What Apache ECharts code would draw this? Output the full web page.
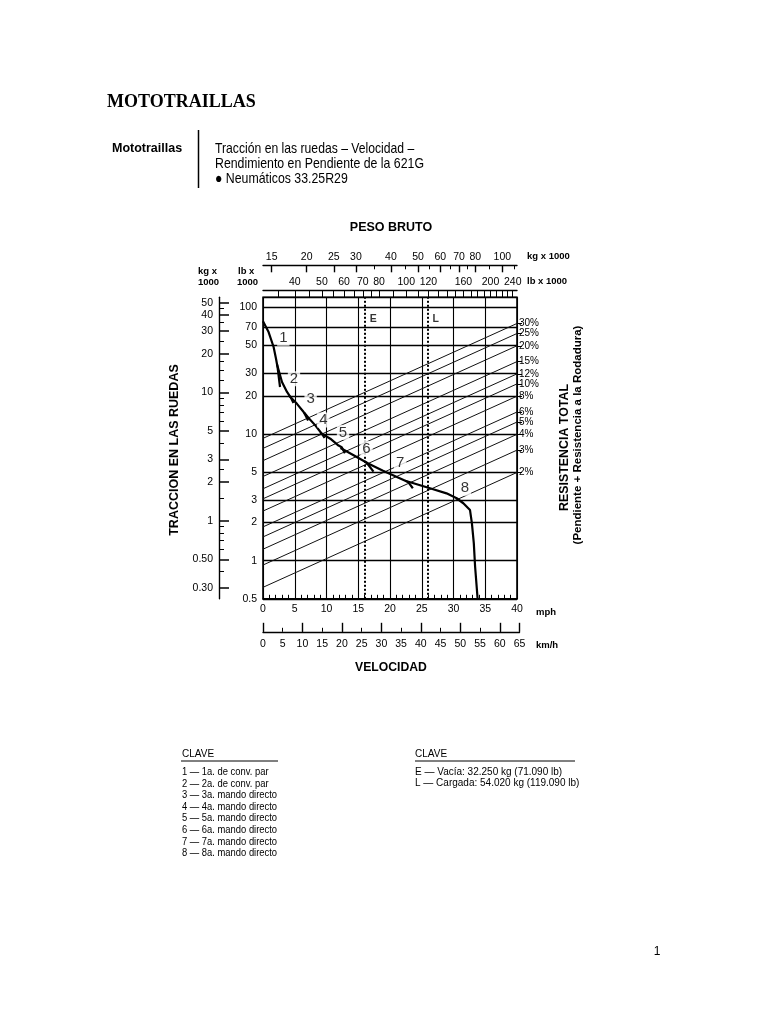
<!DOCTYPE html>
<html><head><meta charset="utf-8">
<script src="https://cdn.jsdelivr.net/npm/echarts@6/dist/echarts.min.js"></script>
<style>html,body{margin:0;padding:0;background:#fff}#c{width:768px;height:1024px}</style>
</head><body><div id="c"></div>
<script>
// ---------- data ----------
// rimpull curve per gear: [speed mph, rimpull lb x 1000]
const gear1 = [[0,77.5],[0.88,63.8],[1.67,48.6],[2.05,39.3],[2.3,33.5],[2.68,23.5]];
const gear2 = [[2.2,35.5],[2.99,25.7],[3.78,21.5],[4.4,19.3],[4.8,17.6]];
const gear3 = [[4.2,19.9],[5.35,17.3],[6.4,14.9],[6.7,14.0],[7.1,12.8]];
const gear4 = [[6.5,14.7],[7.18,13.4],[8.24,11.7],[9.29,10.0],[9.7,9.3]];
const gear5 = [[9.0,10.25],[10.6,9.18],[11.9,8.1],[12.4,7.85],[12.9,7.04]];
const gear6 = [[12.2,7.75],[14.2,6.83],[16.3,5.96],[16.6,5.85],[17.4,5.04]];
const gear7 = [[16.0,6.05],[18.9,5.13],[22.4,4.27],[22.9,4.15],[23.6,3.73]];
const gear8 = [[22.4,4.27],[26.3,3.73],[28.9,3.40],[30.5,3.11],[31.55,2.84],[32.6,2.51],[32.9,1.97],[33.2,1.37],[33.4,0.90],[33.8,0.5]];
const gearLabels = [['1',3.2,57],['2',4.88,27.3],['3',7.5,19.0],['4',9.5,12.9],['5',12.6,10.3],['6',16.3,7.7],['7',21.6,5.94],['8',31.8,3.73]];

const resistancePct = [2,3,4,5,6,8,10,12,15,20,25,30];
const loadsLb = [['E',71.09],['L',119.09]];   // empty / loaded gross weight, lb x 1000

const rimpullLbTicks = [120,100,70,50,30,20,10,5,3,2,1,0.5];
const rimpullKgLabels = [50,40,30,20,10,5,3,2,1,0.5,0.3];
const rimpullKgMinor = [45,35,25,17.5,15,12.5,9,8,7,6,4,2.5,1.5,0.9,0.8,0.7,0.6,0.4];
const weightKgLabels = [15,20,25,30,40,50,60,70,80,100];
const weightKgMinor = [35,45,55,65,75,90,110];
const weightLbLabels = [40,50,60,70,80,100,120,160,200,240];
const weightLbTicks = [35,40,45,50,55,60,65,70,75,80,90,100,110,120,130,140,150,160,170,180,190,200,210,220,230,240];

const rimpullLbRange = [0.5,120];
const rimpullKgRange = [0.246,55.1];
const weightLbRange = [30.8,248.6];
const weightKgRange = [13.97,112.77];
const speedMphRange = [0,40];
const speedKmhRange = [0,65];

const legendGears = ['1 — 1a. de conv. par','2 — 2a. de conv. par','3 — 3a. mando directo','4 — 4a. mando directo','5 — 5a. mando directo','6 — 6a. mando directo','7 — 7a. mando directo','8 — 8a. mando directo'];
const legendLoads = ['E — Vacía: 32.250 kg (71.090 lb)','L — Cargada: 54.020 kg (119.090 lb)'];

// ---------- chart ----------
const FONT = '"Liberation Sans", Arial, Helvetica, sans-serif';
const lbl = {color:'#000', fontSize:10.5, fontFamily:FONT};
const blackLine = {color:'#000', width:1.4};
const fmtKg = v => v < 1 ? v.toFixed(2) : String(v);

const chart = echarts.init(document.getElementById('c'), null, {width:768, height:1024});

const gearSeries = [gear1,gear2,gear3,gear4,gear5,gear6,gear7,gear8].map((g,i)=>({
  type:'line', name:'Marcha '+(i+1), xAxisIndex:0, yAxisIndex:0, data:g,
  symbol:'none', showSymbol:false, lineStyle:{color:'#000', width:2.2}, z:5, silent:true
}));
const resSeries = resistancePct.map(p=>({
  type:'line', name:p+'%', xAxisIndex:1, yAxisIndex:0,
  data: weightLbRange.map(w=>[w, w*p/100]),
  symbol:'none', showSymbol:false, lineStyle:{color:'#111', width:1}, z:3, silent:true
}));

const T = (text,x,y,opt={}) => ({
  type:'text', x, y, rotation: opt.rot||0, scaleX: opt.sx||1, silent:true,
  style:{text, font: opt.font || ('12px '+FONT), fill:'#000',
    textAlign: opt.align||'left', align: opt.align||'left',
    textVerticalAlign:'middle', verticalAlign:'middle'}
});
const graphics = [
  T('MOTOTRAILLAS',107,102,{font:'bold 18px "Liberation Serif", "Times New Roman", serif'}),
  T('Mototraillas',112,148.5,{font:'bold 12.5px '+FONT}),
  {type:'line', silent:true, shape:{x1:198.5,y1:130,x2:198.5,y2:188}, style:{stroke:'#000', lineWidth:1.5}},
  T('Tracción en las ruedas – Velocidad –',215,148.5,{font:'14.5px '+FONT, sx:0.84}),
  T('Rendimiento en Pendiente de la 621G',215,163.5,{font:'14.5px '+FONT, sx:0.85}),
  T('● Neumáticos 33.25R29',215,178.5,{font:'14.5px '+FONT, sx:0.85}),
  T('PESO BRUTO',391,228,{font:'bold 12.5px '+FONT, align:'center'}),
  T('kg x 1000',527,256.5,{font:'bold 9.5px '+FONT}),
  T('lb x 1000',527,281.5,{font:'bold 9.5px '+FONT}),
  T('kg x',198,271.5,{font:'bold 9.5px '+FONT}),
  T('1000',198,282.5,{font:'bold 9.5px '+FONT}),
  T('lb x',238,271.5,{font:'bold 9.5px '+FONT}),
  T('1000',237,282.5,{font:'bold 9.5px '+FONT}),
  T('TRACCION EN LAS RUEDAS',175,450,{font:'bold 12.5px '+FONT, align:'center', rot:Math.PI/2}),
  T('RESISTENCIA TOTAL',565,447.5,{font:'bold 12.4px '+FONT, align:'center', rot:Math.PI/2}),
  T('(Pendiente + Resistencia a la Rodadura)',578,435,{font:'bold 11.5px '+FONT, align:'center', rot:Math.PI/2}),
  T('mph',536,612,{font:'bold 9.5px '+FONT}),
  T('km/h',536,645,{font:'bold 9.5px '+FONT}),
  T('VELOCIDAD',391,668,{font:'bold 12.2px '+FONT, align:'center'}),
  T('CLAVE',182,754,{font:'10px '+FONT}),
  {type:'line', silent:true, shape:{x1:181,y1:761,x2:278,y2:761}, style:{stroke:'#000', lineWidth:1}},
  T('CLAVE',415,754,{font:'10px '+FONT}),
  {type:'line', silent:true, shape:{x1:415,y1:761,x2:575,y2:761}, style:{stroke:'#000', lineWidth:1}},
  T('1',657,952,{font:'12px '+FONT, align:'center'})
];
legendGears.forEach((s,i)=>graphics.push(T(s,182,772.3+i*11.6,{font:'10px '+FONT, sx:0.94})));
legendLoads.forEach((s,i)=>graphics.push(T(s,415,772.3+i*11.2,{font:'10px '+FONT})));

const option = {
  animation:false,
  backgroundColor:'#fff',
  grid:[
    {left:263, top:297.3, width:254, height:301.5, show:true, borderColor:'#000', borderWidth:1.6, backgroundColor:'transparent', outerBoundsMode:'none', containLabel:false},
    {left:263, top:598.8, width:256.5, height:33, show:false, outerBoundsMode:'none', containLabel:false}
  ],
  xAxis:[
    // 0: speed mph (labels + vertical grid)
    {type:'value', gridIndex:0, position:'bottom', min:speedMphRange[0], max:speedMphRange[1], interval:5,
     axisLine:{show:true, onZero:false, lineStyle:{color:'#000', width:1.6}}, axisTick:{show:false},
     axisLabel:{...lbl, margin:5}, splitLine:{show:true, lineStyle:{color:'#000', width:1.1}}},
    // 1: gross weight lb x 1000
    {type:'log', gridIndex:0, position:'top', offset:7, min:weightLbRange[0], max:weightLbRange[1],
     axisLine:{show:true, onZero:false, lineStyle:blackLine},
     axisTick:{show:true, inside:true, length:7, customValues:weightLbTicks, lineStyle:{color:'#000', width:1}},
     axisLabel:{...lbl, margin:3, customValues:weightLbLabels}, splitLine:{show:false}},
    // 2: gross weight kg x 1000 (labels + major ticks)
    {type:'log', gridIndex:0, position:'top', offset:32, min:weightKgRange[0], max:weightKgRange[1],
     axisLine:{show:true, onZero:false, lineStyle:blackLine},
     axisTick:{show:true, inside:true, length:7, customValues:weightKgLabels, lineStyle:{color:'#000', width:1.4}},
     axisLabel:{...lbl, margin:3, customValues:weightKgLabels}, splitLine:{show:false}},
    // 3: kg minor ticks
    {type:'log', gridIndex:0, position:'top', offset:32, min:weightKgRange[0], max:weightKgRange[1],
     axisLine:{show:false, onZero:false},
     axisTick:{show:true, inside:true, length:4, customValues:weightKgMinor, lineStyle:{color:'#000', width:1}},
     axisLabel:{show:false}, splitLine:{show:false}},
    // 4: speed km/h
    {type:'value', gridIndex:1, position:'bottom', min:speedKmhRange[0], max:speedKmhRange[1], interval:5,
     axisLine:{show:true, onZero:false, lineStyle:blackLine},
     axisTick:{show:true, inside:true, length:4, lineStyle:{color:'#000', width:1}},
     axisLabel:{...lbl, margin:7}, splitLine:{show:false}},
    // 5: mph minor ticks
    {type:'value', gridIndex:0, position:'bottom', min:speedMphRange[0], max:speedMphRange[1], interval:1,
     axisLine:{show:false, onZero:false},
     axisTick:{show:true, inside:true, length:4, lineStyle:{color:'#000', width:1}},
     axisLabel:{show:false}, splitLine:{show:false}},
    // 6: km/h major ticks
    {type:'value', gridIndex:1, position:'bottom', min:speedKmhRange[0], max:speedKmhRange[1], interval:10,
     axisLine:{show:false, onZero:false},
     axisTick:{show:true, inside:true, length:9, lineStyle:{color:'#000', width:1.4}},
     axisLabel:{show:false}, splitLine:{show:false}}
  ],
  yAxis:[
    // 0: rimpull lb x 1000
    {type:'log', gridIndex:0, position:'left', min:rimpullLbRange[0], max:rimpullLbRange[1],
     axisLine:{show:false, onZero:false}, axisTick:{show:false, customValues:rimpullLbTicks},
     axisLabel:{...lbl, margin:6, customValues:rimpullLbTicks},
     splitLine:{show:true, lineStyle:{color:'#000', width:1.4}}},
    // 1: rimpull kg x 1000 ruler
    {type:'log', gridIndex:0, position:'left', offset:44, min:rimpullKgRange[0], max:rimpullKgRange[1],
     axisLine:{show:true, onZero:false, lineStyle:blackLine},
     axisTick:{show:true, inside:true, length:10, customValues:rimpullKgLabels, lineStyle:{color:'#000', width:1.5}},
     axisLabel:{...lbl, margin:6, customValues:rimpullKgLabels, formatter:fmtKg}, splitLine:{show:false}},
    // 2: kg minor ticks
    {type:'log', gridIndex:0, position:'left', offset:44, min:rimpullKgRange[0], max:rimpullKgRange[1],
     axisLine:{show:false, onZero:false},
     axisTick:{show:true, inside:true, length:5, customValues:rimpullKgMinor, lineStyle:{color:'#000', width:1}},
     axisLabel:{show:false}, splitLine:{show:false}},
    // 3: total resistance (rimpull / max weight) on the right
    {type:'log', gridIndex:0, position:'right', min:rimpullLbRange[0]/weightLbRange[1], max:rimpullLbRange[1]/weightLbRange[1],
     axisLine:{show:false, onZero:false},
     axisTick:{show:true, inside:false, length:5, customValues:resistancePct.map(p=>p/100), lineStyle:{color:'#000', width:1}},
     axisLabel:{...lbl, fontSize:10, margin:2, customValues:resistancePct.map(p=>p/100), formatter:v=>Math.round(v*100)+'%'},
     splitLine:{show:false}},
    // 4: dummy for km/h grid
    {type:'value', gridIndex:1, show:false, min:0, max:1}
  ],
  graphic:graphics,
  series:[
    ...resSeries,
    ...gearSeries,
    {type:'scatter', name:'Carga', xAxisIndex:1, yAxisIndex:0, symbolSize:0, silent:true, z:6,
     data: loadsLb.map(([n,w])=>({name:n, value:[w,80]})),
     label:{show:true, position:'right', distance:5, formatter:'{b}', fontSize:10.5, fontWeight:'bold', fontFamily:FONT, color:'#000'},
     markLine:{silent:true, symbol:'none', label:{show:false}, lineStyle:{type:'dotted', color:'#000', width:2},
       data: loadsLb.map(([n,w])=>({xAxis:w}))}},
    {type:'scatter', name:'Marchas', xAxisIndex:0, yAxisIndex:0, symbolSize:0, silent:true, z:10,
     data: gearLabels.map(([n,x,y])=>({name:n, value:[x,y]})),
     label:{show:true, position:'inside', formatter:'{b}', fontSize:15, fontFamily:FONT, color:'#000', backgroundColor:'#fff', padding:[0,2]}}
  ]
};
chart.setOption(option);
</script></body></html>
